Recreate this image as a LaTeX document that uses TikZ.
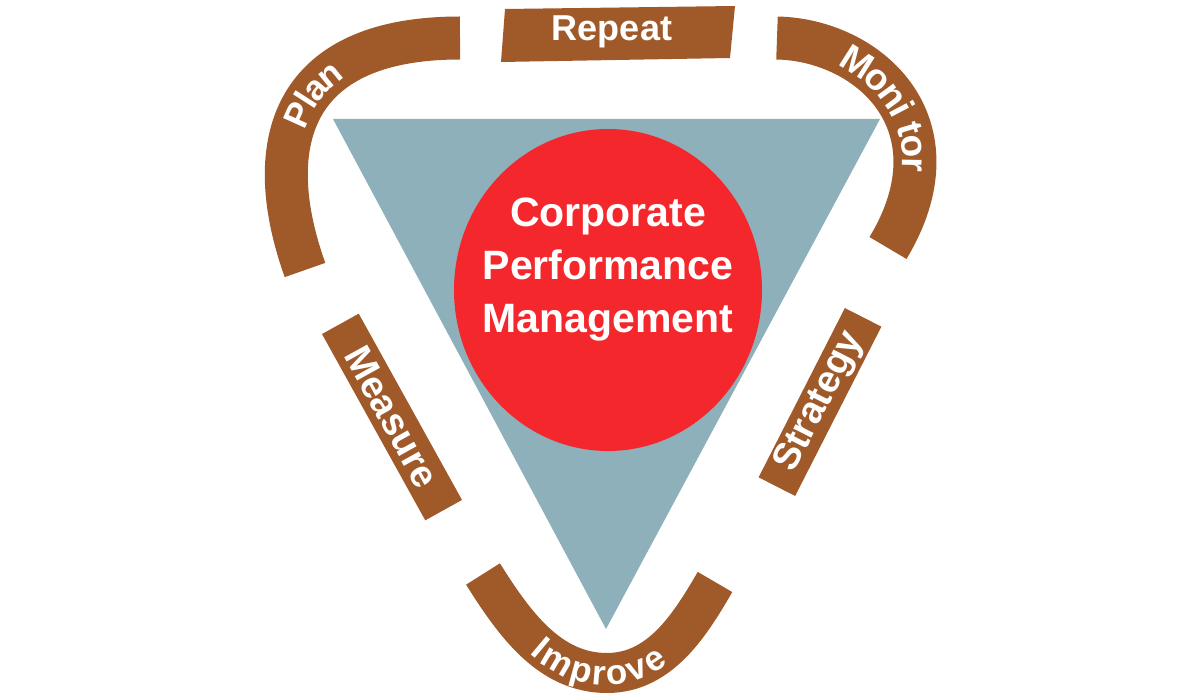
\documentclass[tikz,border=0pt]{standalone}
\usepackage{fontspec}
\setmainfont{Liberation Sans}
\usetikzlibrary{decorations.text}
\definecolor{bandbrown}{RGB}{160,90,42}
\definecolor{tricol}{RGB}{142,176,186}
\definecolor{disccol}{RGB}{244,40,44}
\newcommand{\bandfont}{\bfseries\fontsize{17.5}{20}\selectfont}
\newcommand{\bandfontb}{\bfseries\fontsize{18.5}{21}\selectfont}
\begin{document}
\begin{tikzpicture}[x=0.5pt,y=-0.5pt,
  bandline/.style={draw=bandbrown, line width=21.5pt},
  bandtext/.style={decorate, decoration={text along path, raise=-6.2pt, text color=white}},
  bandbox/.style={fill=bandbrown, draw=none, inner sep=0pt, text=white,
     font=\bfseries\fontsize{19}{22}\selectfont, minimum height=21pt}]
\useasboundingbox (0,0) rectangle (1200,700);
\fill[white] (0,0) rectangle (1200,700);

% triangle
\fill[tricol] (333,119) -- (880,119) -- (606,629) -- cycle;

% central disc
\fill[disccol] (608,290) ellipse [x radius=154, y radius=161];
\node[align=center, text=white, font=\bfseries\fontsize{20.5}{26.5}\selectfont] (cpm) at (608,270)
  {Corporate\\Performance\\Management};

% Repeat
\fill[bandbrown] (505,9) -- (735,6) -- (730,58) -- (501,62) -- cycle;
\node[text=white, font=\bfseries\fontsize{18}{20}\selectfont] (repeat) at (612,32) {Repeat};

% Plan arc
\draw[bandline] (305,270) .. controls (262,150) and (285,38) .. (460,38);
\path[bandtext, decoration={text={|\bandfont|Plan}, text align={center, left indent=10pt}}] (305,270) .. controls (262,150) and (285,38) .. (460,38);

% Monitor arc
\draw[bandline] (777,38) .. controls (870,40) and (962,125) .. (888,248);
\path[bandtext, decoration={text={|\bandfontb|Moni tor}, text align={center, right indent=6pt}}] (777,38) .. controls (870,40) and (962,125) .. (888,248);

% Improve arc
\draw[draw=bandbrown, line width=20pt] (483,574) .. controls (515,625) and (550,673) .. (607,673) .. controls (660,673) and (690,625) .. (715,582);
\path[bandtext, decoration={text={|\bandfont|Improve}, text align=center}] (483,574) .. controls (515,625) and (550,673) .. (607,673) .. controls (660,673) and (690,625) .. (715,582);

% straight bands
\node[bandbox, minimum width=106.5pt, rotate=-61] (measure) at (392,417) {Measure};
\node[bandbox, minimum width=95pt, minimum height=20.5pt, rotate=63] (strategy) at (820,402) {Strategy};
\end{tikzpicture}
\end{document}
